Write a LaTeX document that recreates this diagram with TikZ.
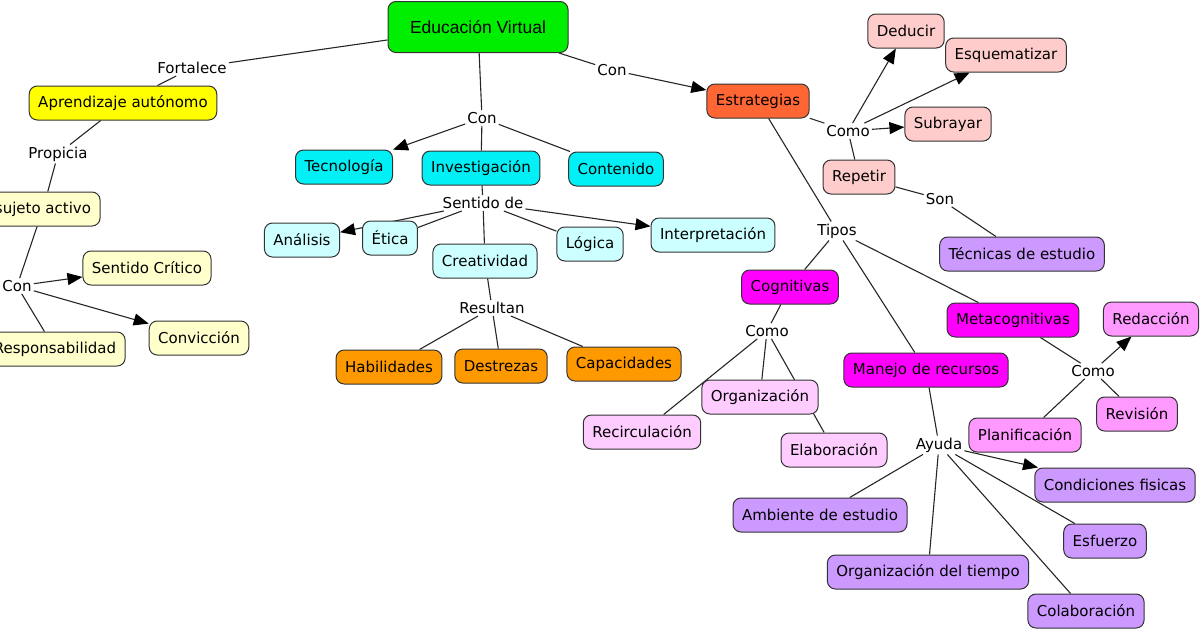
\documentclass[tikz,border=0pt]{standalone}
\usepackage{fontspec}
\setmainfont{DejaVu Sans}
\newfontfamily\arialfont{Liberation Sans}
\usepackage{tikz}
\pgfdeclarelayer{bg}
\pgfsetlayers{bg,main}
\usetikzlibrary{arrows.meta,positioning}
\definecolor{evgreen}{RGB}{0,238,0}
\definecolor{autoyellow}{RGB}{255,255,0}
\definecolor{paleyellow}{RGB}{255,255,204}
\definecolor{medcyan}{RGB}{0,240,245}
\definecolor{palecyan}{RGB}{204,255,255}
\definecolor{resorange}{RGB}{255,153,0}
\definecolor{estorange}{RGB}{255,102,51}
\definecolor{palerose}{RGB}{255,204,204}
\definecolor{lavender}{RGB}{204,153,255}
\definecolor{tipmagenta}{RGB}{255,0,255}
\definecolor{palemagenta}{RGB}{255,204,255}
\definecolor{metpink}{RGB}{255,153,255}

\begin{document}
\begin{tikzpicture}[x=1pt,y=-1pt,
  concept/.style={draw=black!80, line width=1pt, rounded corners=8pt,
    inner xsep=9pt, minimum height=34pt, font=\fontsize{15}{18}\selectfont},
  linkp/.style={inner sep=2pt, font=\fontsize{15}{18}\selectfont},
  ln/.style={draw=black!85, line width=1.1pt},
  arr/.style={ln, -{Triangle[length=15pt,width=12pt,color=black]}}]
  \useasboundingbox (0,0) rectangle (1200,630);
  % concepts
  \node[concept, fill=evgreen, minimum width=180pt, minimum height=51pt,
    font=\arialfont\fontsize{17.5}{20}\selectfont] (ev) at (478,27) {Educación Virtual};
  \node[concept, fill=autoyellow] (apr) at (123,103) {Aprendizaje autónomo};
  \node[concept, fill=paleyellow] (suj) at (43,209) {sujeto activo};
  \node[concept, fill=paleyellow] (crit) at (147,268) {Sentido Crítico};
  \node[concept, fill=paleyellow] (conv) at (199,338) {Convicción};
  \node[concept, fill=paleyellow] (resp) at (55,349) {Responsabilidad};
  \node[concept, fill=medcyan] (tec) at (344,167) {Tecnología};
  \node[concept, fill=medcyan] (inv) at (481,168) {Investigación};
  \node[concept, fill=medcyan] (cont) at (616,169) {Contenido};
  \node[concept, fill=palecyan] (ana) at (302,240) {Análisis};
  \node[concept, fill=palecyan] (eti) at (390,238) {Ética};
  \node[concept, fill=palecyan] (cre) at (485,261) {Creatividad};
  \node[concept, fill=palecyan] (logi) at (590,244) {Lógica};
  \node[concept, fill=palecyan] (inter) at (713,235) {Interpretación};
  \node[concept, fill=resorange] (hab) at (389,367) {Habilidades};
  \node[concept, fill=resorange] (des) at (501,366) {Destrezas};
  \node[concept, fill=resorange] (cap) at (624,364) {Capacidades};
  \node[concept, fill=estorange] (est) at (758,101) {Estrategias};
  \node[concept, fill=palerose] (ded) at (906,31) {Deducir};
  \node[concept, fill=palerose] (esq) at (1006,55) {Esquematizar};
  \node[concept, fill=palerose] (sub) at (948,124) {Subrayar};
  \node[concept, fill=palerose] (rep) at (859,177) {Repetir};
  \node[concept, fill=lavender] (tes) at (1022,254) {Técnicas de estudio};
  \node[concept, fill=tipmagenta] (cog) at (790,287) {Cognitivas};
  \node[concept, fill=tipmagenta] (meta) at (1013,320) {Metacognitivas};
  \node[concept, fill=tipmagenta] (man) at (926,370) {Manejo de recursos};
  \node[concept, fill=palemagenta] (orga) at (760,397) {Organización};
  \node[concept, fill=palemagenta] (reci) at (642,432) {Recirculación};
  \node[concept, fill=palemagenta] (ela) at (834,450) {Elaboración};
  \node[concept, fill=metpink] (reda) at (1151,319) {Redacción};
  \node[concept, fill=metpink] (revi) at (1137,414) {Revisión};
  \node[concept, fill=metpink] (plan) at (1025,435) {Planificación};
  \node[concept, fill=lavender] (cond) at (1115,485) {Condiciones fisicas};
  \node[concept, fill=lavender] (esf) at (1105,541) {Esfuerzo};
  \node[concept, fill=lavender] (amb) at (820,515) {Ambiente de estudio};
  \node[concept, fill=lavender] (otie) at (928,572) {Organización del tiempo};
  \node[concept, fill=lavender] (cola) at (1086,611) {Colaboración};
  % linking phrases
  \node[linkp] (fort) at (192,68) {Fortalece};
  \node[linkp] (prop) at (58,154) {Propicia};
  \node[linkp] (conA) at (17,286) {Con};
  \node[linkp] (conB) at (482,118) {Con};
  \node[linkp] (conC) at (612,70) {Con};
  \node[linkp] (sent) at (483,203) {Sentido de};
  \node[linkp] (resu) at (492,308) {Resultan};
  \node[linkp] (comoA) at (848,131) {Como};
  \node[linkp] (son) at (940,199) {Son};
  \node[linkp] (tipos) at (837,231) {Tipos};
  \node[linkp] (comoB) at (767,331) {Como};
  \node[linkp] (comoC) at (1093,371) {Como};
  \node[linkp] (ayu) at (939,445) {Ayuda};
  \begin{pgfonlayer}{bg}
    \foreach \a/\b in {ev/fort, fort/apr, apr/prop, prop/suj, suj/conA, conA/resp,
      ev/conB, conB/inv, conB/cont, ev/conC, inv/sent, sent/eti, sent/cre, sent/logi,
      cre/resu, resu/hab, resu/des, resu/cap, est/comoA, comoA/rep, rep/son, son/tes,
      est/tipos, tipos/cog, tipos/man, tipos/meta, cog/comoB, comoB/reci, comoB/orga,
      comoB/ela, meta/comoC, comoC/revi, comoC/plan, man/ayu, ayu/amb, ayu/otie,
      ayu/esf, ayu/cola}
      \draw[ln] (\a) -- (\b);
    \foreach \a/\b in {conA/crit, conA/conv, conB/tec, conC/est, sent/ana, sent/inter,
      comoA/ded, comoA/esq, comoA/sub, comoC/reda, ayu/cond}
      \draw[arr] (\a) -- (\b);
  \end{pgfonlayer}
\end{tikzpicture}
\end{document}
